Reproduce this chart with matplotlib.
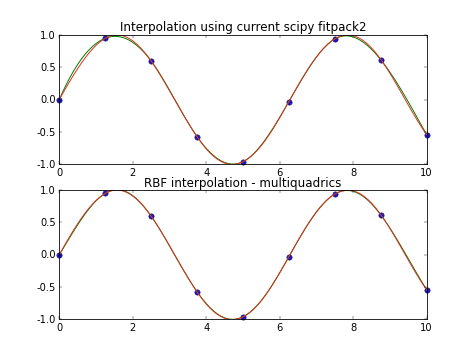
import numpy as np
import matplotlib
matplotlib.use('Agg')
import matplotlib.pyplot as plt

# sample points (blue dots)
x_pts = [0.0, 1.25, 2.5, 3.75, 5.0, 6.25, 7.5, 8.75, 10.0]
y_pts = [0.0, 0.95, 0.60, -0.57, -0.96, -0.03, 0.94, 0.62, -0.54]

x_ref = [0.0, 0.5, 1.0, 1.5, 2.0, 2.5, 3.0, 3.5, 4.0, 4.5, 5.0,
         5.5, 6.0, 6.5, 7.0, 7.5, 8.0, 8.5, 9.0, 9.5, 10.0]
y_ref = [0.0, 0.48, 0.84, 1.0, 0.91, 0.60, 0.14, -0.35, -0.76, -0.98, -0.96,
         -0.71, -0.28, 0.22, 0.66, 0.94, 0.99, 0.80, 0.41, -0.08, -0.54]

titles = ['Interpolation using current scipy fitpack2',
          'RBF interpolation - multiquadrics']


def spline_notaknot(x, y, xi):
    # cubic interpolating spline, not-a-knot ends (same as fitpack k=3)
    x = np.asarray(x, float)
    y = np.asarray(y, float)
    n = len(x)
    h = np.diff(x)
    A = np.zeros((n, n))
    b = np.zeros(n)
    for i in range(1, n - 1):
        A[i, i - 1] = h[i - 1]
        A[i, i] = 2 * (h[i - 1] + h[i])
        A[i, i + 1] = h[i]
        b[i] = 6 * ((y[i + 1] - y[i]) / h[i] - (y[i] - y[i - 1]) / h[i - 1])
    A[0, 0], A[0, 1], A[0, 2] = h[1], -(h[0] + h[1]), h[0]
    A[-1, -3], A[-1, -2], A[-1, -1] = h[-1], -(h[-2] + h[-1]), h[-2]
    M = np.linalg.solve(A, b)
    xi = np.asarray(xi, float)
    k = np.clip(np.searchsorted(x, xi) - 1, 0, n - 2)
    t0 = x[k + 1] - xi
    t1 = xi - x[k]
    hk = h[k]
    return (M[k] * t0 ** 3 / (6 * hk) + M[k + 1] * t1 ** 3 / (6 * hk)
            + (y[k] / hk - M[k] * hk / 6) * t0
            + (y[k + 1] / hk - M[k + 1] * hk / 6) * t1)


def rbf_multiquadric(x, y, xi, eps=2.0):
    x = np.asarray(x, float)
    y = np.asarray(y, float)
    phi = lambda r: np.sqrt((r / eps) ** 2 + 1)
    w = np.linalg.solve(phi(np.abs(x[:, None] - x[None, :])), y)
    return phi(np.abs(np.asarray(xi)[:, None] - x[None, :])) @ w


plt.style.use('classic')
plt.rcParams['axes.unicode_minus'] = False

xi = np.linspace(0, 10, 101)
fits = [spline_notaknot(x_pts, y_pts, xi), rbf_multiquadric(x_pts, y_pts, xi)]
red = spline_notaknot(x_ref, y_ref, xi)

fig = plt.figure(figsize=(8, 6), dpi=59.25)
for i in range(2):
    ax = fig.add_subplot(2, 1, i + 1)
    ax.plot(x_pts, y_pts, 'o', color='#2010d0', markeredgecolor='#101060',
            markeredgewidth=0.6, markersize=6.5, clip_on=False)
    ax.plot(xi, fits[i], 'g', lw=1.2)
    ax.plot(xi, red, color='#e03020', lw=1.2)
    ax.set_xlim(0, 10)
    ax.set_ylim(-1, 1)
    ax.set_title(titles[i])

plt.savefig('out.png', dpi=59.25)
